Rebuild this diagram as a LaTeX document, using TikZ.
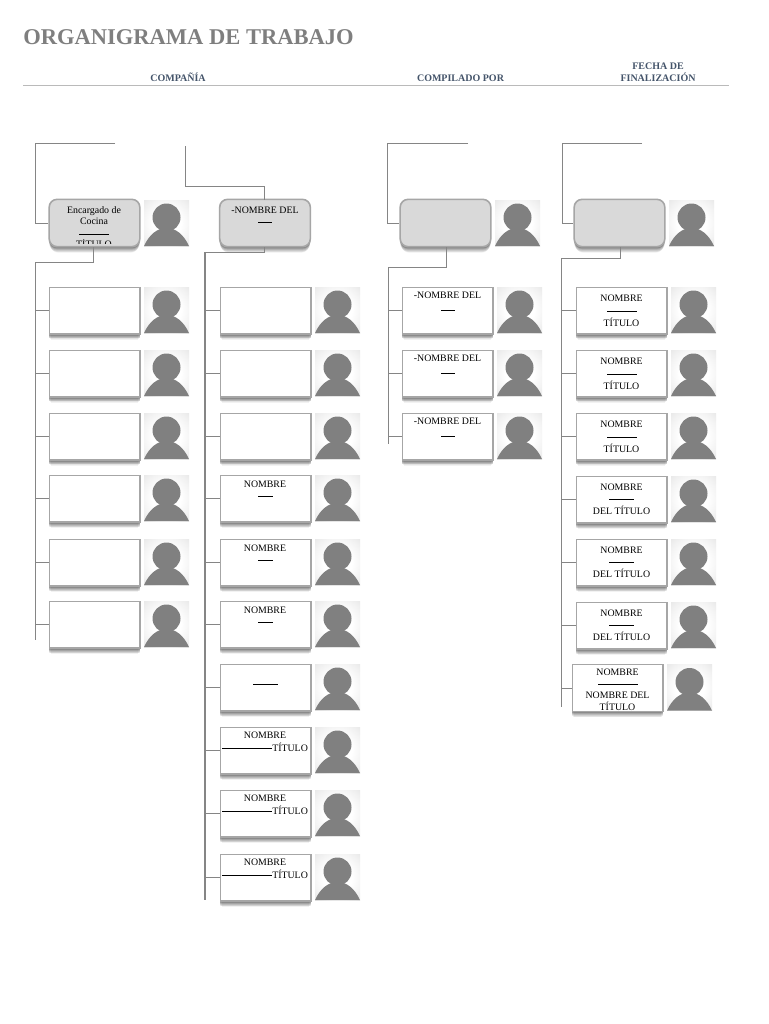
\documentclass[tikz,border=0pt]{standalone}
\usepackage{fontspec}
\setmainfont{Liberation Serif}
\usetikzlibrary{shadows,calc}
\definecolor{conn}{HTML}{858585}
\definecolor{frameg}{HTML}{A6A6A6}
\definecolor{leadg}{HTML}{D9D9D9}
\definecolor{navyt}{HTML}{44546A}
\definecolor{silg}{HTML}{808080}
\definecolor{titleg}{HTML}{7F7F7F}
\pgfdeclareradialshading{photoshade}{\pgfpoint{0bp}{0bp}}{color(0bp)=(white); color(16bp)=(white); color(28bp)=(black!5); color(38bp)=(black!10); color(50bp)=(black!15)}
\tikzset{
  softshadow/.style={
    drop shadow={shadow xshift=0pt,shadow yshift=-5.2pt,shadow scale=.97,opacity=.05,fill=black},
    drop shadow={shadow xshift=0pt,shadow yshift=-4.4pt,shadow scale=.985,opacity=.06,fill=black},
    drop shadow={shadow xshift=0pt,shadow yshift=-3.6pt,shadow scale=.995,opacity=.08,fill=black},
    drop shadow={shadow xshift=0pt,shadow yshift=-2.8pt,shadow scale=1.0,opacity=.10,fill=black},
    drop shadow={shadow xshift=0pt,shadow yshift=-2pt,shadow scale=1.0,opacity=.12,fill=black},
    drop shadow={shadow xshift=0pt,shadow yshift=-1.2pt,shadow scale=1.005,opacity=.15,fill=black}},
  leadbox/.style={draw=frameg,line width=1.2pt,fill=leadg,rounded corners=6pt,minimum width=68pt,minimum height=35.5pt,inner sep=0pt,softshadow},
  rowbox/.style={draw=frameg,line width=1pt,fill=white,minimum width=68pt,minimum height=35pt,inner sep=0pt,softshadow},
  photobox/.style={inner sep=0pt,minimum width=33.75pt,minimum height=34.5pt,shading=photoshade},
  link/.style={draw=conn,line width=.65pt},
  spine/.style={draw=conn,line width=.9pt},
  lbl/.style={inner sep=0pt,anchor=base,align=center,font=\fontsize{7.4}{9}\selectfont},
  head/.style={inner sep=0pt,anchor=base,font=\fontsize{7.5}{9}\selectfont\bfseries,text=navyt},
  silh/.style={fill=silg,draw=none}
}
% \photo{name}{x}{y}
\newcommand{\photo}[3]{%
  \node[photobox] (#1) at (#2+22.5,#3+23) {};
  \fill[silh] (#2+22.5,#3+17.5) circle (14);
  \fill[silh] (#2,#3+46) .. controls (#2+5,#3+35) and (#2+13,#3+28) .. (#2+22.5,#3+28)
     .. controls (#2+32,#3+28) and (#2+40,#3+35) .. (#2+45,#3+46) -- cycle;
}
% \person{name}{box x}{y}{photo x}
\newcommand{\person}[4]{%
  \node[rowbox] (#1) at (#2+45.5,#3+23.5) {};
  \photo{#1p}{#4}{#3}
}
\newcommand{\dashbar}[4]{\node[inner sep=0pt,fill=black,minimum width=#4*0.75pt,minimum height=.6pt] (#1) at (#2,#3) {};}
\newcommand{\txt}[4]{\node[lbl] (#1) at (#2,#3) {#4};}
\begin{document}
\begin{tikzpicture}[x=0.75pt,y=-0.75pt]
\useasboundingbox (0,0) rectangle (768,1024);
\fill[white] (0,0) rectangle (768,1024);

% header
\node[inner sep=0pt,anchor=base west,font=\fontsize{16.9}{20}\selectfont\bfseries,text=titleg] (title) at (23,44.5) {ORGANIGRAMA DE TRABAJO};
\node[head] (h1) at (178,81) {COMPAÑÍA};
\node[head] (h2) at (460.5,81) {COMPILADO POR};
\node[head] (h3a) at (658,69.5) {FECHA DE};
\node[head] (h3b) at (658,81) {FINALIZACIÓN};
\coordinate (ruleL) at (23,85);
\coordinate (ruleR) at (729,85);
\draw[draw=black!27,line width=.7pt] (ruleL) -- (ruleR);

\coordinate (t1a) at (115,143); \coordinate (t1b) at (35,143);
\coordinate (s1t) at (35,262); \coordinate (s1b) at (35,640);
\coordinate (t2a) at (185,146); \coordinate (t2b) at (185,186);
\coordinate (s2t) at (205,252); \coordinate (s2b) at (205,900);
\coordinate (t3a) at (468,143); \coordinate (t3b) at (387,143);
\coordinate (s3t) at (388,267); \coordinate (s3b) at (388,444);
\coordinate (t4a) at (642,143); \coordinate (t4b) at (562,143);
\coordinate (s4t) at (561,258); \coordinate (s4b) at (561,707);

% column 1
\node[leadbox] (L1) at (94.5,223) {};
\photo{L1p}{144}{200}
\foreach \n/\y in {a/287,b/350,c/413,d/475,e/539,f/601}{\person{A\n}{49}{\y}{144}}
% column 2
\node[leadbox] (L2) at (265,223) {};
\foreach \n/\y in {a/287,b/350,c/413,d/475,e/539,f/601,g/664,h/727,i/790,j/854}{\person{B\n}{220}{\y}{315}}
% column 3
\node[leadbox] (L3) at (445.5,223) {};
\photo{L3p}{495}{200}
\foreach \n/\y in {a/287,b/350,c/413}{\person{C\n}{402}{\y}{497}}
% column 4
\node[leadbox] (L4) at (619.5,223) {};
\photo{L4p}{669}{200}
\foreach \n/\y in {a/287,b/350,c/413,d/476,e/539,f/602}{\person{D\n}{576}{\y}{671}}
\person{Dg}{572}{664.5}{667}

% connectors column 1
\draw[link] (t1a) -- (t1b) |- (L1.west);
\draw[link] (93,247) -- (93,262) -- (s1t);
\draw[link] (s1t) -- (s1b);
\foreach \n in {a,...,f}{\draw[link] (A\n.west) -- (s1t |- A\n.west);}
% connectors column 2
\draw[link] (t2a) -- (t2b) -- (264,186) -- (264,199.5);
\draw[link] (264,247) -- (264,252) -- (s2t);
\draw[spine] (s2t) -- (s2b);
\foreach \n in {a,...,j}{\draw[link] (B\n.west) -- (s2t |- B\n.west);}
% connectors column 3
\draw[link] (t3a) -- (t3b) |- (L3.west);
\draw[link] (446,247) -- (446,267) -- (s3t);
\draw[link] (s3t) -- (s3b);
\foreach \n in {a,b,c}{\draw[link] (C\n.west) -- (s3t |- C\n.west);}
% connectors column 4
\draw[link] (t4a) -- (t4b) |- (L4.west);
\draw[link] (620,247) -- (620,258) -- (s4t);
\draw[link] (s4t) -- (s4b);
\foreach \n in {a,...,g}{\draw[link] (D\n.west) -- (s4t |- D\n.west);}

% texts: lead boxes
\txt{x1}{94}{213}{Encargado de}
\txt{x2}{94}{224}{Cocina}
\dashbar{x3}{94}{234.5}{30}
\begin{scope}
  \clip (50,239) rectangle (139,243);
  \txt{x4}{94}{247}{TÍTULO}
\end{scope}
\txt{y1}{265}{213}{-NOMBRE DEL}
\dashbar{y2}{265}{222.5}{14}

% column 2 texts
\foreach \n/\y in {d/475,e/539,f/601}{
  \txt{B\n t}{265}{\y+12}{NOMBRE}
  \dashbar{B\n r}{265}{\y+21.5}{15}
}
\dashbar{Bgr}{265}{684.5}{25}
\foreach \n/\y in {h/727,i/790,j/854}{
  \txt{B\n t}{265}{\y+11.5}{NOMBRE}
  \dashbar{B\n r}{247}{\y+21.5}{50}
  \node[lbl,anchor=base west] (B\n u) at (272,\y+24) {TÍTULO};
}

% column 3 texts
\foreach \n/\y in {a/287,b/350,c/413}{
  \txt{C\n t}{447.5}{\y+11.5}{-NOMBRE DEL}
  \dashbar{C\n r}{447.5}{\y+23}{14}
}

% column 4 texts
\foreach \n/\y in {a/287,b/350,c/413}{
  \txt{D\n t}{621.5}{\y+14.5}{NOMBRE}
  \dashbar{D\n r}{621.5}{\y+24.5}{30}
  \txt{D\n u}{621.5}{\y+39.5}{TÍTULO}
}
\foreach \n/\y in {d/476,e/539,f/602}{
  \txt{D\n t}{621.5}{\y+14}{NOMBRE}
  \dashbar{D\n r}{621.5}{\y+23}{25}
  \txt{D\n u}{621.5}{\y+38}{DEL TÍTULO}
}
\txt{Dgt}{617.5}{675}{NOMBRE}
\dashbar{Dgr}{617.5}{684}{40}
\txt{Dgu}{617.5}{698.5}{NOMBRE DEL}
\begin{scope}
  \clip (573,700) rectangle (662,711);
  \txt{Dgv}{617.5}{710.5}{TÍTULO}
\end{scope}
\end{tikzpicture}
\end{document}
